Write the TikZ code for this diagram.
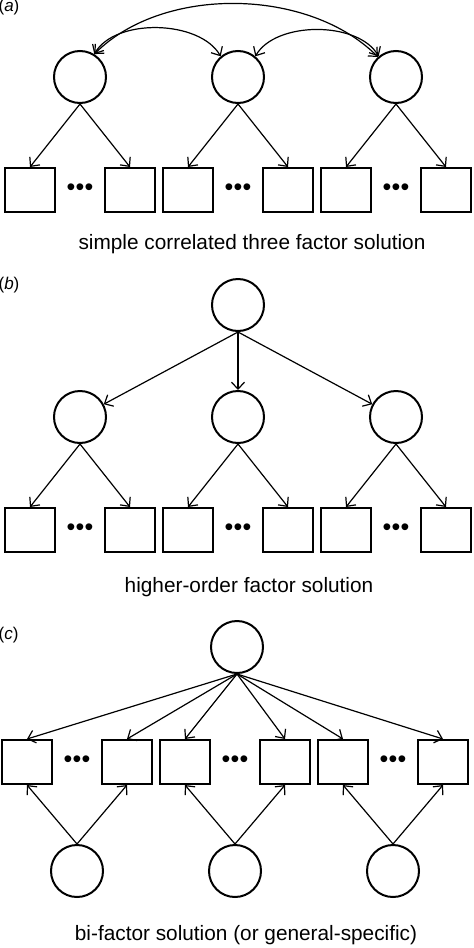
\documentclass[tikz,border=0pt]{standalone}
\usepackage{fontspec}
\setmainfont{Liberation Sans}
\usepackage{tikz}
\usetikzlibrary{positioning,arrows.meta}
\tikzstyle{factor} = [draw, circle, line width=1pt, minimum size=26pt, inner sep=0pt]
\tikzstyle{indicator} = [draw, rectangle, line width=1pt, minimum width=25pt, minimum height=22pt, inner sep=0pt]
\tikzstyle{etc} = [inner sep=0pt, font=\fontsize{12.5}{14}\selectfont]
\tikzstyle{caption} = [inner sep=0pt, font=\fontsize{10.4}{12}\selectfont]
\tikzstyle{panel} = [anchor=west, inner sep=0pt, font=\fontsize{8.5}{10}\selectfont]
\newcommand{\threedots}{•\kern0.1pt•\kern0.1pt•}

\begin{document}
\begin{tikzpicture}[on grid, line width=0.6pt, >={Straight Barb[length=3.5pt,width=6.5pt]}]
    \useasboundingbox (0,0) rectangle (236.5pt,-474pt);
    % (a) three correlated factors
    \node [panel] (la) at (-1pt,-3.5pt) {(\textit{a})};
    \node [factor] (a1) at (40pt,-38.5pt) {};
    \node [factor, right=79pt of a1] (a2) {};
    \node [factor, right=79pt of a2] (a3) {};
    \node [indicator, below left=56.5pt and 25pt of a1] (a1l) {};
    \node [etc, below=56.5pt of a1] (a1d) {\threedots};
    \node [indicator, below right=56.5pt and 25pt of a1] (a1r) {};
    \node [indicator, below left=56.5pt and 25pt of a2] (a2l) {};
    \node [etc, below=56.5pt of a2] (a2d) {\threedots};
    \node [indicator, below right=56.5pt and 25pt of a2] (a2r) {};
    \node [indicator, below left=56.5pt and 25pt of a3] (a3l) {};
    \node [etc, below=56.5pt of a3] (a3d) {\threedots};
    \node [indicator, below right=56.5pt and 25pt of a3] (a3r) {};
    \node [caption] (capa) at (126pt,-122pt) {simple correlated three factor solution};
    % loadings and correlations
    \draw [->] (a1.south) -- (a1l.north);
    \draw [->] (a1.south) -- (a1r.north);
    \draw [->] (a2.south) -- (a2l.north);
    \draw [->] (a2.south) -- (a2r.north);
    \draw [->] (a3.south) -- (a3l.north);
    \draw [->] (a3.south) -- (a3r.north);
    \draw [<->] (a1.58) to [out=60, in=120, looseness=0.85] (a2.130);
    \draw [<->] (a2.50) to [out=60, in=120, looseness=0.85] (a3.130);
    \draw [<->] (a1.58) to [out=45, in=135, looseness=0.88] (a3.132);

    % (b) higher-order factor
    \node [panel] (lb) at (-1pt,-142.5pt) {(\textit{b})};
    \node [factor] (bt) at (119pt,-152.5pt) {};
    \node [factor, below=56pt of bt] (b2) {};
    \node [factor, left=79pt of b2] (b1) {};
    \node [factor, right=79pt of b2] (b3) {};
    \node [indicator, below left=56.5pt and 25pt of b1] (b1l) {};
    \node [etc, below=56.5pt of b1] (b1d) {\threedots};
    \node [indicator, below right=56.5pt and 25pt of b1] (b1r) {};
    \node [indicator, below left=56.5pt and 25pt of b2] (b2l) {};
    \node [etc, below=56.5pt of b2] (b2d) {\threedots};
    \node [indicator, below right=56.5pt and 25pt of b2] (b2r) {};
    \node [indicator, below left=56.5pt and 25pt of b3] (b3l) {};
    \node [etc, below=56.5pt of b3] (b3d) {\threedots};
    \node [indicator, below right=56.5pt and 25pt of b3] (b3r) {};
    \node [caption] (capb) at (124.5pt,-293.5pt) {higher-order factor solution};
    \draw [->] (bt.south) -- (b1);
    \draw [->] (bt.south) -- (b2.north);
    \draw [->] (bt.south) -- (b3);
    \draw [->] (b1.south) -- (b1l.north);
    \draw [->] (b1.south) -- (b1r.north);
    \draw [->] (b2.south) -- (b2l.north);
    \draw [->] (b2.south) -- (b2r.north);
    \draw [->] (b3.south) -- (b3l.north);
    \draw [->] (b3.south) -- (b3r.north);

    % (c) general factor plus specific factors
    \node [panel] (lc) at (-1pt,-317.5pt) {(\textit{c})};
    \node [factor] (ct) at (118.5pt,-323.5pt) {};
    \node [factor] (c1) at (38.5pt,-435.5pt) {};
    \node [factor, right=79pt of c1] (c2) {};
    \node [factor, right=79pt of c2] (c3) {};
    \node [indicator, above left=54.5pt and 25pt of c1] (c1l) {};
    \node [etc, above=54.5pt of c1] (c1d) {\threedots};
    \node [indicator, above right=54.5pt and 25pt of c1] (c1r) {};
    \node [indicator, above left=54.5pt and 25pt of c2] (c2l) {};
    \node [etc, above=54.5pt of c2] (c2d) {\threedots};
    \node [indicator, above right=54.5pt and 25pt of c2] (c2r) {};
    \node [indicator, above left=54.5pt and 25pt of c3] (c3l) {};
    \node [etc, above=54.5pt of c3] (c3d) {\threedots};
    \node [indicator, above right=54.5pt and 25pt of c3] (c3r) {};
    \node [caption] (capc) at (123pt,-467.5pt) {bi-factor solution (or general-specific)};
    \draw [->] (ct.south) -- (c1l.north);
    \draw [->] (ct.south) -- (c1r.north);
    \draw [->] (ct.south) -- (c2l.north);
    \draw [->] (ct.south) -- (c2r.north);
    \draw [->] (ct.south) -- (c3l.north);
    \draw [->] (ct.south) -- (c3r.north);
    \draw [->] (c1.north) -- (c1l.south);
    \draw [->] (c1.north) -- (c1r.south);
    \draw [->] (c2.north) -- (c2l.south);
    \draw [->] (c2.north) -- (c2r.south);
    \draw [->] (c3.north) -- (c3l.south);
    \draw [->] (c3.north) -- (c3r.south);
\end{tikzpicture}
\end{document}
